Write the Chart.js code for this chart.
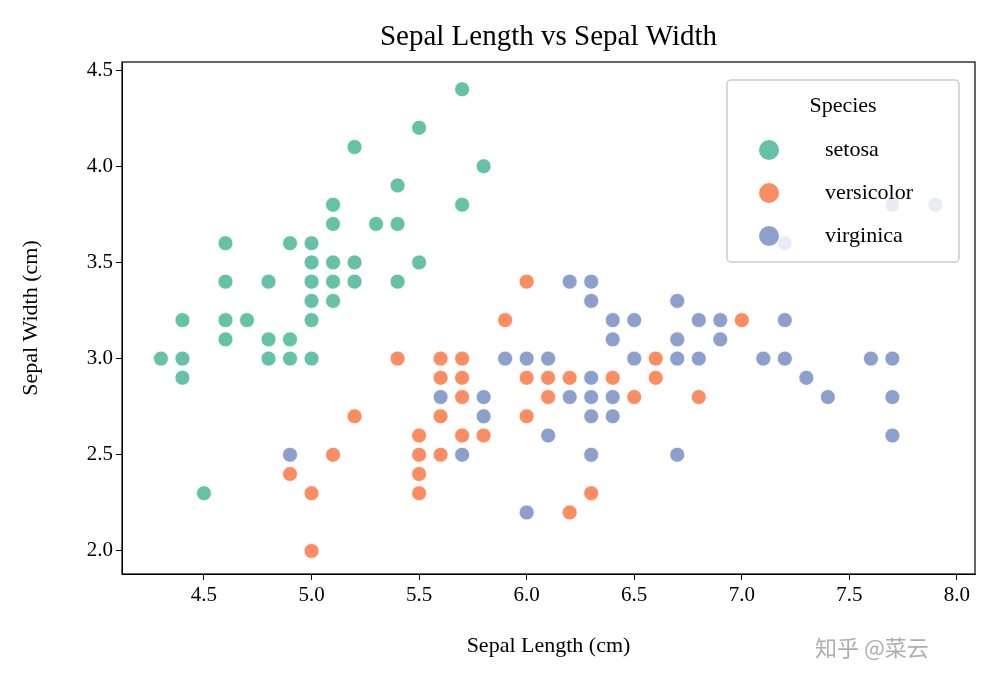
<!DOCTYPE html>
<html><head><meta charset="utf-8">
<script src="https://cdn.jsdelivr.net/npm/chart.js@4"></script>
<style>body{margin:0;background:#fff}#wrap{width:998px;height:685px}</style>
</head><body><div id="wrap"><canvas id="c"></canvas></div>
<script>
const species = ['setosa', 'versicolor', 'virginica'];
const colors = ['#66c2a5', '#fc8d62', '#8da0cb'];
const xTicks = [4.5, 5.0, 5.5, 6.0, 6.5, 7.0, 7.5, 8.0];
const yTicks = [2.0, 2.5, 3.0, 3.5, 4.0, 4.5];

const setosaX = [5.1,4.9,4.7,4.6,5.0,5.4,4.6,5.0,4.4,4.9,5.4,4.8,4.8,4.3,5.8,5.7,5.4,5.1,5.7,5.1,5.4,5.1,4.6,5.1,4.8,5.0,5.0,5.2,5.2,4.7,4.8,5.4,5.2,5.5,4.9,5.0,5.5,4.9,4.4,5.1,5.0,4.5,4.4,5.0,5.1,4.8,5.1,4.6,5.3,5.0];
const setosaY = [3.5,3.0,3.2,3.1,3.6,3.9,3.4,3.4,2.9,3.1,3.7,3.4,3.0,3.0,4.0,4.4,3.9,3.5,3.8,3.8,3.4,3.7,3.6,3.3,3.4,3.0,3.4,3.5,3.4,3.2,3.1,3.4,4.1,4.2,3.1,3.2,3.5,3.6,3.0,3.4,3.5,2.3,3.2,3.5,3.8,3.0,3.8,3.2,3.7,3.3];
const versicolorX = [7.0,6.4,6.9,5.5,6.5,5.7,6.3,4.9,6.6,5.2,5.0,5.9,6.0,6.1,5.6,6.7,5.6,5.8,6.2,5.6,5.9,6.1,6.3,6.1,6.4,6.6,6.8,6.7,6.0,5.7,5.5,5.5,5.8,6.0,5.4,6.0,6.7,6.3,5.6,5.5,5.5,6.1,5.8,5.0,5.6,5.7,5.7,6.2,5.1,5.7];
const versicolorY = [3.2,3.2,3.1,2.3,2.8,2.8,3.3,2.4,2.9,2.7,2.0,3.0,2.2,2.9,2.9,3.1,3.0,2.7,2.2,2.5,3.2,2.8,2.5,2.8,2.9,3.0,2.8,3.0,2.9,2.6,2.4,2.4,2.7,2.7,3.0,3.4,3.1,2.3,3.0,2.5,2.6,3.0,2.6,2.3,2.7,3.0,2.9,2.9,2.5,2.8];
const virginicaX = [6.3,5.8,7.1,6.3,6.5,7.6,4.9,7.3,6.7,7.2,6.5,6.4,6.8,5.7,5.8,6.4,6.5,7.7,7.7,6.0,6.9,5.6,7.7,6.3,6.7,7.2,6.2,6.1,6.4,7.2,7.4,7.9,6.4,6.3,6.1,7.7,6.3,6.4,6.0,6.9,6.7,6.9,5.8,6.8,6.7,6.7,6.3,6.5,6.2,5.9];
const virginicaY = [3.3,2.7,3.0,2.9,3.0,3.0,2.5,2.9,2.5,3.6,3.2,2.7,3.0,2.5,2.8,3.2,3.0,3.8,2.6,2.2,3.2,2.8,2.8,2.7,3.3,3.2,2.8,3.0,2.8,3.0,2.8,3.8,2.8,2.8,2.6,3.0,3.4,3.1,3.0,3.1,3.1,3.1,2.7,3.2,3.3,3.0,2.5,3.0,3.4,3.0];

const xs = [setosaX, versicolorX, virginicaX];
const ys = [setosaY, versicolorY, virginicaY];
const FONT = 'Liberation Serif, Times New Roman, serif';

const frame = {
  id: 'frame',
  afterDatasetsDraw(chart) {
    const ctx = chart.ctx, a = chart.chartArea;
    ctx.save();
    ctx.strokeStyle = '#000'; ctx.lineWidth = 1.2;
    ctx.strokeRect(a.left, a.top, a.right - a.left, a.bottom - a.top);
    // title
    ctx.fillStyle = '#000';
    ctx.font = '29px ' + FONT;
    ctx.textAlign = 'center'; ctx.textBaseline = 'middle';
    ctx.fillText('Sepal Length vs Sepal Width', (a.left + a.right) / 2, 37);
    // legend
    const bx = 727, by = 80, bw = 232, bh = 182;
    ctx.fillStyle = 'rgba(255,255,255,0.8)';
    ctx.strokeStyle = '#cccccc'; ctx.lineWidth = 1.5;
    ctx.beginPath(); ctx.roundRect(bx, by, bw, bh, 4); ctx.fill(); ctx.stroke();
    ctx.fillStyle = '#000';
    ctx.font = '22px ' + FONT;
    ctx.fillText('Species', 843, 106);
    ctx.textAlign = 'left';
    species.forEach((s, i) => {
      const y = 150 + i * 43;
      ctx.beginPath(); ctx.arc(769, y, 10, 0, Math.PI * 2);
      ctx.fillStyle = colors[i]; ctx.fill();
      ctx.fillStyle = '#000';
      ctx.fillText(s, 825, y);
    });
    // watermark
    ctx.font = '22px Noto Sans CJK SC';
    ctx.fillStyle = 'rgba(160,160,160,0.85)';
    ctx.fillText('知乎 @菜云', 815, 648);
    ctx.restore();
  }
};

new Chart(document.getElementById('c'), {
  type: 'scatter',
  data: {
    datasets: species.map((s, i) => ({
      label: s,
      order: 2 - i,
      data: xs[i].map((x, j) => ({ x: x, y: ys[i][j] })),
      backgroundColor: colors[i],
      borderColor: '#ffffff',
      borderWidth: 0.8,
      pointRadius: 7.5
    }))
  },
  options: {
    responsive: true, maintainAspectRatio: false, animation: false,
    layout: { padding: { top: 62, right: 23, left: 14, bottom: 22 } },
    plugins: { legend: { display: false }, tooltip: { enabled: false } },
    scales: {
      x: {
        type: 'linear', min: 4.119, max: 8.084,
        afterBuildTicks: ax => { ax.ticks = xTicks.map(v => ({ value: v })); },
        afterFit: ax => { ax.height = 89; },
        ticks: { color: '#000', font: { family: FONT, size: 21 }, callback: v => v.toFixed(1) },
        grid: { display: true, drawOnChartArea: false, tickLength: 6, color: '#000' },
        border: { color: '#000' },
        title: { display: true, text: 'Sepal Length (cm)', color: '#000', font: { family: FONT, size: 22 } }
      },
      y: {
        type: 'linear', min: 1.880, max: 4.542,
        afterBuildTicks: ax => { ax.ticks = yTicks.map(v => ({ value: v })); },
        afterFit: ax => { ax.width = 108; },
        ticks: { color: '#000', font: { family: FONT, size: 21 }, callback: v => v.toFixed(1) },
        grid: { display: true, drawOnChartArea: false, tickLength: 6, color: '#000' },
        border: { color: '#000' },
        title: { display: true, text: 'Sepal Width (cm)', color: '#000', font: { family: FONT, size: 22 } }
      }
    }
  },
  plugins: [frame]
});
</script></body></html>
